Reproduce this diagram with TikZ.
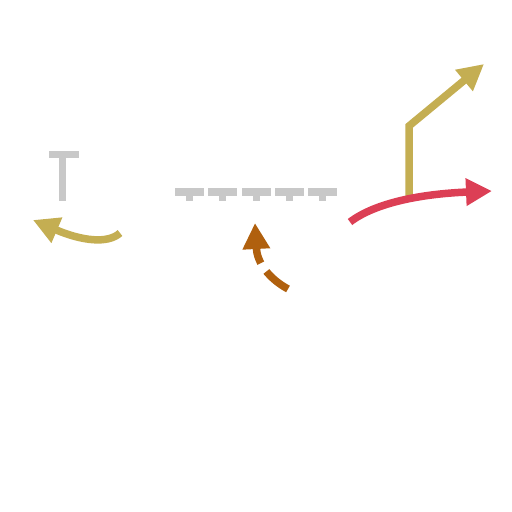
\documentclass[tikz,border=0pt]{standalone}
\usetikzlibrary{arrows.meta}
\definecolor{tgold}{HTML}{C4AE52}
\definecolor{torange}{HTML}{B0600E}
\definecolor{tred}{HTML}{DC3F55}
\definecolor{tgray}{HTML}{C8C8C8}
\tikzset{
  route/.style={line width=7.5pt, line join=miter},
  headA/.style={-{Triangle[length=26pt,width=26pt]}},
  lineman/.style={fill=tgray, draw=none},
}
\begin{document}
\begin{tikzpicture}[x=1pt,y=-1pt]
\useasboundingbox (0,0) rectangle (512,512);
% left T
\fill[lineman] (49,151) rectangle (79,158);
\fill[lineman] (59,157) -- (66,157) -- (66,201) -- (59,201) -- cycle;
% row of five
\foreach \c in {189,222,256,289,322}{
  \fill[lineman] (\c-14.5,188) rectangle (\c+14.5,196);
  \fill[lineman] (\c-3.5,195) rectangle (\c+3.5,201);
}
% coordinates
\coordinate (g1s) at (120,233);
\coordinate (g1e) at (33,220);
\coordinate (os) at (288,289);
\coordinate (oe) at (255,223);
\coordinate (rs) at (350,222);
\coordinate (re) at (492,191);
\coordinate (g2s) at (409,198);
\coordinate (g2m) at (409,126);
\coordinate (g2e) at (484,64);
% arrows
\draw[route, tgold, headA] (g1s) .. controls (108,244) and (82,241) .. (g1e);
\draw[route, torange, headA, dash pattern=on 28pt off 10pt] (os) .. controls (268,278) and (257,262) .. (oe);
\draw[route, tgold, headA] (g2s) -- (g2m) -- (g2e);
\draw[route, tred, headA] (rs) .. controls (375,203) and (420,194) .. (re);
\end{tikzpicture}
\end{document}
